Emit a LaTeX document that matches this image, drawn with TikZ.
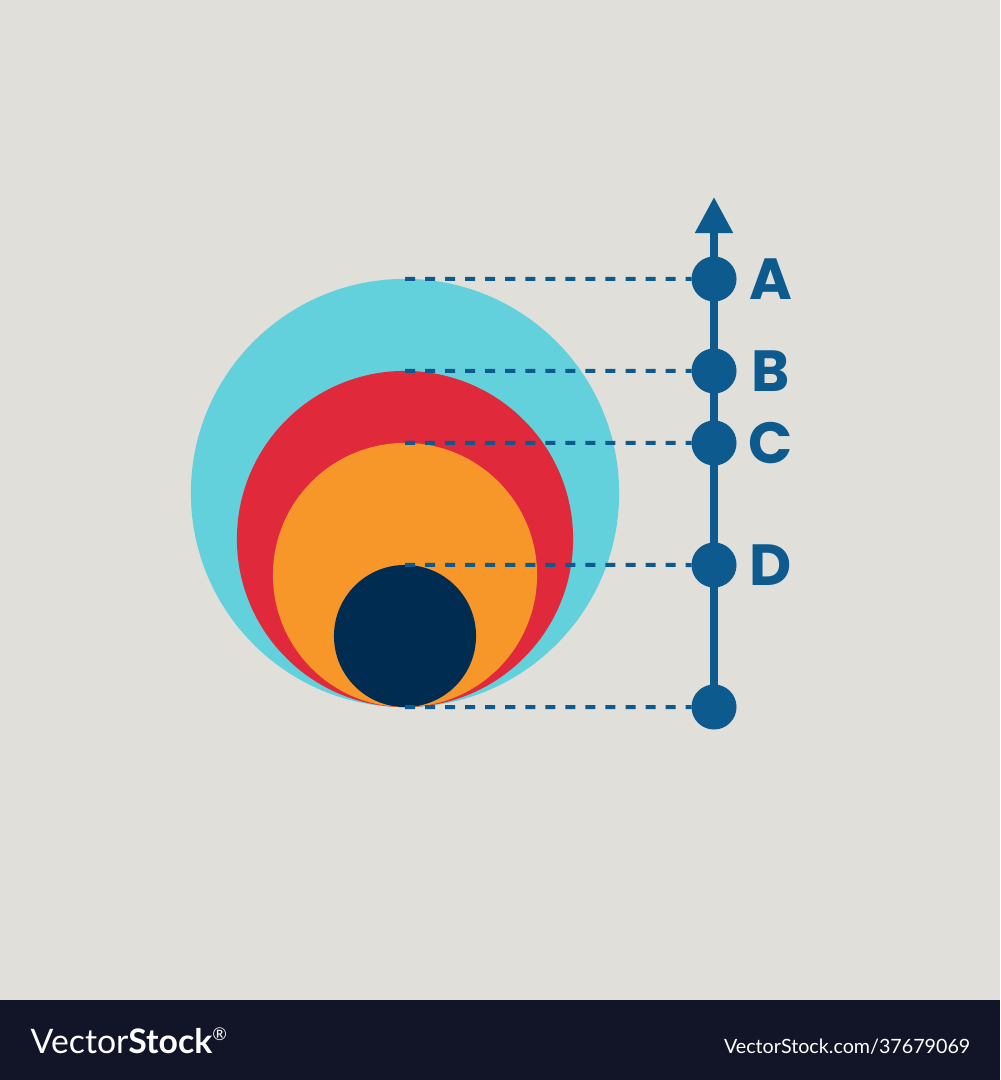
\documentclass[tikz,border=0pt]{standalone}
\usepackage{fontspec}
\setmainfont{Poppins}
\newfontfamily\stockfont{Lato}
\usetikzlibrary{arrows.meta,positioning}
\definecolor{paper}{HTML}{E0DFDA}
\definecolor{band}{HTML}{121427}
\definecolor{sky}{HTML}{62D1DC}
\definecolor{scarlet}{HTML}{E0293B}
\definecolor{amber}{HTML}{F7972A}
\definecolor{ink}{HTML}{002C52}
\definecolor{axisblue}{HTML}{0D5A8E}
\tikzset{
    disc style/.style={circle,inner sep=0pt,outer sep=0pt},
    dot style/.style={circle,fill=axisblue,minimum size=0.45cm,inner sep=0pt,outer sep=0pt},
    level style/.style={draw=axisblue,line width=0.04cm,dash pattern=on 2.85pt off 2.85pt},
    label style/.style={text=axisblue,font=\fontsize{16.5}{16.5}\selectfont\bfseries,inner sep=0pt},
}

\begin{document}
\begin{tikzpicture}[x=0.01cm,y=-0.01cm]
\fill [paper] (0,0) rectangle (1000,1000);
\fill [band] (0,1000) rectangle (1000,1080);
\useasboundingbox (0,0) rectangle (1000,1080);

% nested discs, all touching at the bottom
\node [disc style,fill=sky,minimum size=4.28cm] (sky) at (405,493) {};
\node [disc style,fill=scarlet,minimum size=3.36cm] (scarlet) at (405,539) {};
\node [disc style,fill=amber,minimum size=2.64cm] (amber) at (405,575) {};
\node [disc style,fill=ink,minimum size=1.42cm] (ink) at (405,636) {};

% dots on the axis
\node [dot style] (dotA) at (714,279) {};
\node [dot style] (dotB) at (714,371) {};
\node [dot style] (dotC) at (714,443) {};
\node [dot style] (dotD) at (714,565) {};
\node [dot style] (dotE) at (714,707) {};
\coordinate (top) at (714,197);

% axis
\draw [axisblue,line width=0.08cm,-{Triangle[width=0.36cm,length=0.36cm]}] (dotE.center) -- (top);

% dashed levels
\draw [level style] (sky.north) -- (dotA.west);
\draw [level style] (scarlet.north) -- (dotB.west);
\draw [level style] (amber.north) -- (dotC.west);
\draw [level style] (ink.north) -- (dotD.west);
\draw [level style] (ink.south) -- (dotE.west);

\node [label style] (labA) at (771,279) {A};
\node [label style] (labB) at (771,371) {B};
\node [label style] (labC) at (771,443) {C};
\node [label style] (labD) at (771,565) {D};

% footer
\node [anchor=base west,text=white,inner sep=0pt,font=\stockfont\fontsize{9.6}{9.6}\selectfont] (brand) at (30,1053) {Vector\textbf{Stock}\textsuperscript{\tiny\textregistered}};
\node [anchor=base east,text=white,inner sep=0pt,font=\stockfont\fontsize{5.6}{5.6}\selectfont] (link) at (971,1053) {VectorStock.com/37679069};
\end{tikzpicture}
\end{document}
